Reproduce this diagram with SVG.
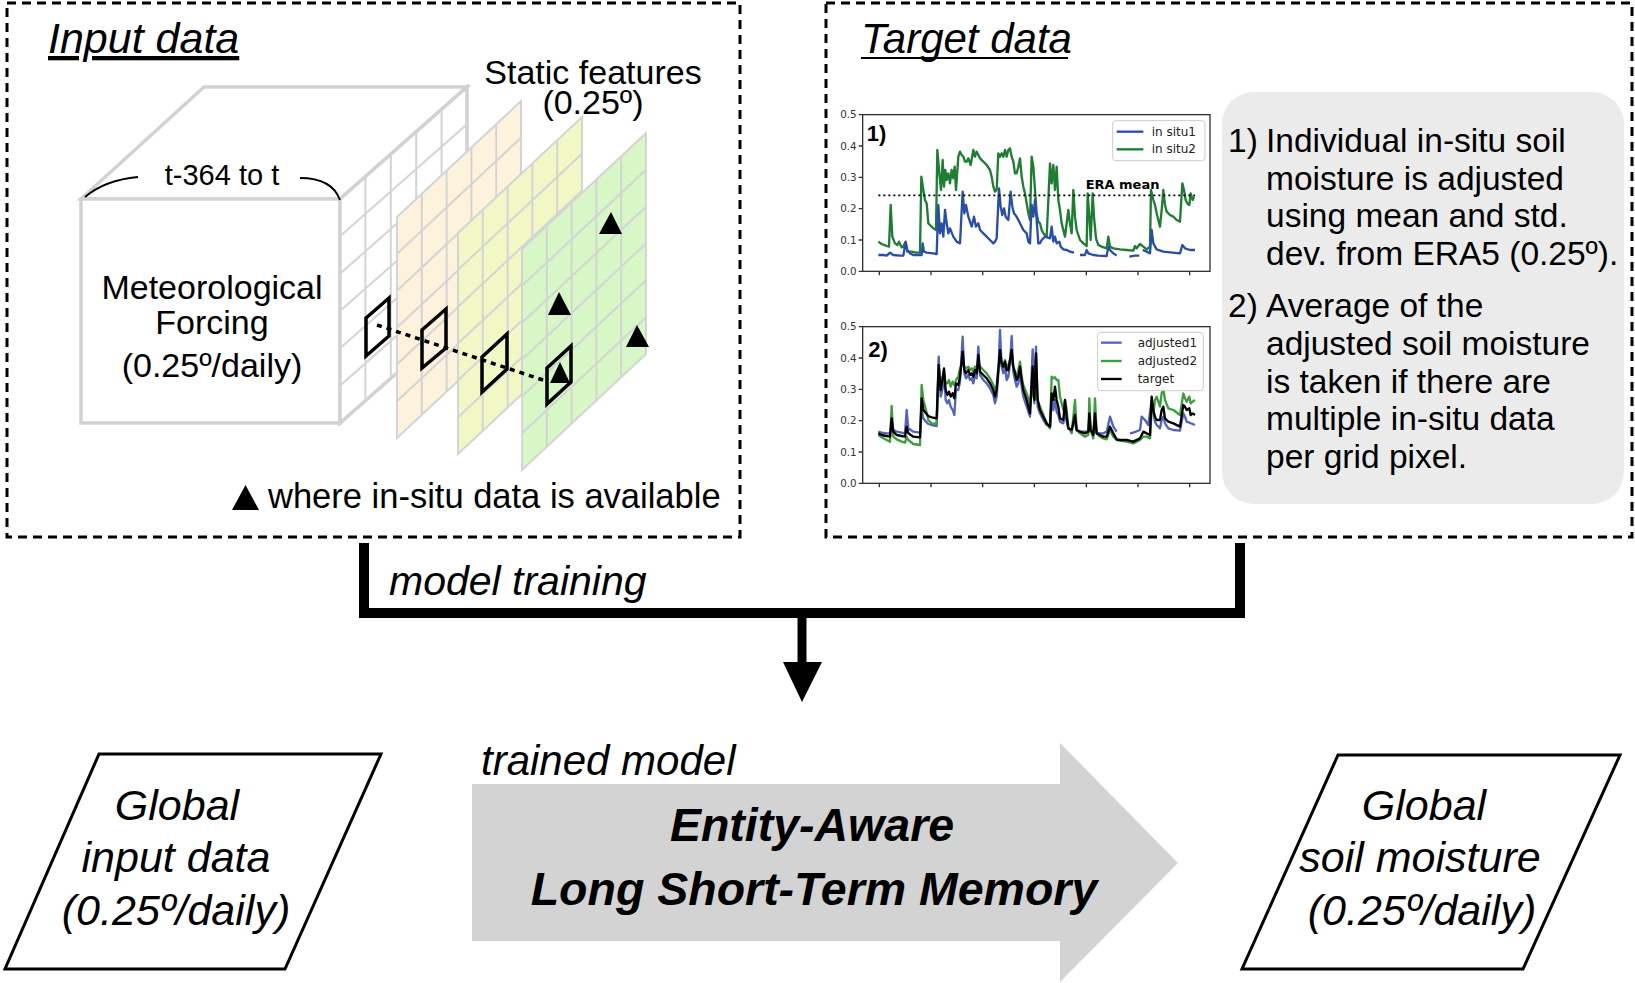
<svg xmlns="http://www.w3.org/2000/svg" width="1635" height="983" viewBox="0 0 1635 983">
<style>
.sans{font-family:"Liberation Sans",Arial,Helvetica,sans-serif;fill:#000}
.it{font-style:italic}
.bd{font-weight:bold}
.dash{fill:none;stroke:#000;stroke-width:3;stroke-dasharray:9 6}
.grey{fill:none;stroke:#d4d4d4;stroke-width:2}
.cube{stroke:#d2d2d2;stroke-width:3.5;fill:#fff}
.cell{fill:none;stroke:#000;stroke-width:3.5;stroke-linejoin:miter}
.spine{fill:none;stroke:#333;stroke-width:4}
.tick{stroke:#333;stroke-width:4}
.tl{font-family:"DejaVu Sans","Liberation Sans",sans-serif;font-size:31px;fill:#333;text-anchor:end}
.lg{font-family:"DejaVu Sans","Liberation Sans",sans-serif;font-size:36px;fill:#222}
.ser{fill:none;stroke-width:7;stroke-linejoin:round}
</style>
<defs>
<g id="grid">
<path class="grey" d="M0,0 L124,-116 L124,105 L0,221 Z M24.8,-23.2 V197.8 M49.6,-46.4 V174.6 M74.4,-69.6 V151.4 M99.2,-92.8 V128.2 M0,36.8 L124,-79.2 M0,73.7 L124,-42.3 M0,110.5 L124,-5.5 M0,147.3 L124,31.3 M0,184.2 L124,68.2"/>
</g>
<g id="axes">
<rect class="spine" x="128" y="0" width="1042" height="470"/>
<path class="tick" d="M116,0 H128 M116,94 H128 M116,188 H128 M116,282 H128 M116,376 H128 M116,470 H128 M178,470 V482 M333,470 V482 M488,470 V482 M643,470 V482 M799,470 V482 M954,470 V482 M1109,470 V482"/>
<text class="tl" x="110" y="11">0.5</text>
<text class="tl" x="110" y="105">0.4</text>
<text class="tl" x="110" y="199">0.3</text>
<text class="tl" x="110" y="293">0.2</text>
<text class="tl" x="110" y="387">0.1</text>
<text class="tl" x="110" y="481">0.0</text>
</g>
</defs>
<rect width="1635" height="983" fill="#fff"/>

<g id="input-data">
<rect class="dash" x="7" y="3" width="733" height="534"/>
<text class="sans it" x="48" y="53" font-size="43" text-decoration="underline">Input data</text>
<!-- cube -->
<polygon class="cube" points="81,199 204,87 467,87 340,199"/>
<rect class="cube" x="81" y="199" width="259" height="224"/>
<polygon class="cube" points="340,199 467,87 467,311 340,423"/>
<path class="grey" d="M365.4,176.6 V400.6 M390.8,154.2 V378.2 M416.2,131.8 V355.8 M441.6,109.4 V333.4 M340,236.3 L467,124.3 M340,273.7 L467,161.7 M340,311 L467,199 M340,348.3 L467,236.3 M340,385.7 L467,273.7"/>
<text class="sans" x="222" y="185" font-size="29" text-anchor="middle">t-364 to t</text>
<path d="M85,197 Q105,180 138,177 M300,178 Q332,178 340,200" fill="none" stroke="#000" stroke-width="1.8"/>
<text class="sans" font-size="34" text-anchor="middle"><tspan x="212" y="299">Meteorological</tspan><tspan x="212" y="334">Forcing</tspan><tspan x="212" y="377">(0.25º/daily)</tspan></text>
<!-- static feature panels -->
<polygon points="397,217 521,101 521,322 397,438" fill="#fdf3dc"/>
<use href="#grid" x="397" y="217"/>
<polygon points="458,233 582,117 582,338 458,454" fill="#f2f7c6"/>
<use href="#grid" x="458" y="233"/>
<polygon points="522,249 646,133 646,354 522,470" fill="#d7f7c6"/>
<use href="#grid" x="522" y="249"/>
<text class="sans" font-size="34" text-anchor="middle"><tspan x="593" y="84">Static features</tspan><tspan x="593" y="114">(0.25º)</tspan></text>
<!-- in-situ markers -->
<polygon points="611,212 599,234 622,234" fill="#000"/>
<polygon points="559,292 548,315 571,315" fill="#000"/>
<polygon points="637,325 626,347 649,347" fill="#000"/>
<polygon points="560,362 550,383 570,383" fill="#000"/>
<!-- selected cells -->
<line x1="377" y1="325" x2="546" y2="381" stroke="#000" stroke-width="3.5" stroke-dasharray="5 5"/>
<polygon class="cell" points="366,318 389,298 389,336 366,356"/>
<polygon class="cell" points="422,330 446,309 446,348 422,368"/>
<polygon class="cell" points="482,357 507,334 507,369 482,392"/>
<polygon class="cell" points="547,368 571,346 571,382 547,404"/>
<polygon points="245.5,485 232,510 259,510" fill="#000"/>
<text class="sans" x="268" y="508" font-size="34.5">where in-situ data is available</text>
</g>

<g id="target-data">
<rect class="dash" x="826" y="3" width="806" height="534"/>
<text class="sans it" x="861" y="53" font-size="42">Target data</text>
<line x1="861" y1="58" x2="1068" y2="58" stroke="#000" stroke-width="2"/>
<!-- chart 1 -->
<g transform="translate(820,90) scale(0.33333)">
<use href="#axes" y="74"/>
<polyline class="ser" stroke="#1e7d33" points="175,455 185,462 200,468 207,470 212,345 217,440 225,460 232,465 237,455 240,462 245,472 250,470 255,458 262,485 275,485 290,488 300,488 304,260 310,300 315,330 320,340 325,400 330,405 340,415 348,420 352,180 358,250 363,300 368,210 372,290 376,240 380,270 385,250 390,280 395,240 400,265 404,230 408,300 415,200 420,185 425,195 430,200 435,215 440,215 445,205 452,225 460,180 465,200 470,185 475,195 480,205 490,215 500,225 510,240 515,260 520,290 525,305 530,300 535,190 540,200 545,190 550,200 555,180 560,200 565,180 570,175 575,200 580,215 585,250 590,250 595,230 600,205 605,260 610,290 615,310 620,340 625,370 630,390 635,200 640,230 645,300 650,370 655,395 660,400 665,420 670,430 680,440 690,220 695,280 700,225 705,300 710,230 715,330 720,360 725,400 730,420 735,440 745,360 750,400 755,430 760,300 765,380 770,420 780,450 790,460 800,468 803,310 808,380 812,450 818,310 822,380 828,445 835,465 845,470 860,475 865,440 870,470 880,475 900,478 920,480 940,482 945,468 950,475 960,462 970,470 980,478 990,470 993,300 1000,330 1005,345 1010,370 1015,390 1020,410 1025,360 1030,300 1035,345 1040,365 1050,375 1060,380 1070,390 1080,395 1087,280 1092,300 1097,330 1102,340 1108,345 1112,310 1118,330 1122,320"/>
<polyline class="ser" stroke="#2a4ea8" points="175,495 190,495 200,497 210,488 220,495 240,497 250,497 257,455 262,480 270,490 280,495 290,495 305,495 308,460 312,485 320,488 340,490 350,492 355,345 360,430 365,400 370,440 375,360 380,400 385,430 390,415 400,440 410,455 420,460 428,305 433,370 438,345 445,380 450,395 455,410 462,380 468,410 475,400 480,420 490,430 500,440 510,450 520,460 525,455 530,445 537,295 542,350 547,375 552,355 557,380 565,390 572,305 577,350 582,370 590,380 600,400 610,420 620,430 625,455 630,460 635,345 640,380 645,330 650,390 655,460 660,460 665,450 675,440 690,445 695,410 700,455 705,440 710,460 718,455 722,470 730,478 740,480 750,485 762,488"/>
<polyline class="ser" stroke="#2a4ea8" points="780,495 795,495 800,480 805,490 820,495 835,497 860,498 865,470 870,480 880,490 890,497"/>
<polyline class="ser" stroke="#2a4ea8" points="928,500 945,497 958,497"/>
<polyline class="ser" stroke="#2a4ea8" points="968,480 980,485 990,490 995,420 1000,460 1010,478 1030,485 1050,487 1080,490 1087,465 1095,475 1110,480 1125,480"/>
<line x1="175" y1="316" x2="1125" y2="316" stroke="#000" stroke-width="5" stroke-dasharray="6 9"/>
<text x="797" y="298" font-family="DejaVu Sans,Liberation Sans,sans-serif" font-weight="bold" font-size="39" fill="#000">ERA mean</text>
<rect x="878" y="92" width="277" height="120" rx="10" fill="#fff" fill-opacity="0.85" stroke="#ccc" stroke-width="3"/>
<line x1="890" y1="125" x2="970" y2="125" stroke="#2a4ea8" stroke-width="7"/>
<line x1="890" y1="178" x2="970" y2="178" stroke="#1e7d33" stroke-width="7"/>
<text class="lg" x="995" y="137">in situ1</text>
<text class="lg" x="995" y="190">in situ2</text>
<text class="sans bd" x="140" y="152" font-size="66">1)</text>
</g>
<!-- chart 2 -->
<g transform="translate(820,300) scale(0.33333)">
<use href="#axes" y="80"/>
<polyline class="ser" stroke="#5264bc" points="175,395 185,398 200,400 210,400 215,370 220,390 230,395 245,398 255,400 260,330 265,385 280,395 300,398 305,330 310,355 318,365 325,372 335,375 350,378 356,170 362,290 367,270 372,210 377,300 382,310 387,300 392,320 398,330 403,345 408,270 415,270 420,245 428,110 433,220 438,235 445,225 450,240 455,235 460,250 465,225 470,235 475,140 480,225 490,240 500,250 510,265 520,285 525,310 530,290 535,220 540,90 545,200 550,220 555,200 560,240 565,230 570,190 575,108 580,215 585,240 590,260 595,250 600,215 605,260 610,290 620,320 630,350 638,148 643,310 648,140 653,320 660,340 670,360 680,375 690,380 695,300 700,330 705,300 710,335 715,345 720,365 730,370 735,330 740,365 745,385 755,392 765,360 770,392 780,395 795,395 805,395 808,360 812,392 820,398 825,360 830,398 840,400 850,400 860,395 870,350 880,380 890,395"/>
<polyline class="ser" stroke="#5264bc" points="930,400 940,398 960,390 965,350 975,360 985,375 995,300 1000,340 1005,365 1010,375 1020,385 1025,360 1030,350 1035,370 1045,385 1060,390 1080,392 1090,340 1095,350 1100,365 1108,368 1118,372 1125,375"/>
<polyline class="ser" stroke="#3e9b3e" points="175,405 185,412 200,420 210,425 215,318 220,410 230,418 245,425 255,428 260,410 265,420 280,432 300,435 305,255 310,300 318,330 325,360 335,370 350,372 356,210 362,260 367,235 372,220 377,250 382,250 387,240 392,260 398,245 403,255 408,240 415,230 420,205 428,190 433,200 438,205 445,200 450,210 455,205 460,215 465,200 470,210 475,190 480,200 490,210 500,220 510,235 520,255 525,270 530,255 535,205 540,190 545,195 550,195 555,180 560,200 565,195 570,180 575,185 580,200 585,215 590,230 595,210 600,185 605,230 610,255 620,280 630,310 638,270 643,300 648,270 653,300 660,320 670,345 680,370 690,385 695,230 700,235 705,232 710,240 715,240 720,290 730,330 735,300 740,330 745,380 755,400 765,300 770,390 780,400 795,410 805,405 808,295 812,390 820,415 825,295 830,400 840,410 850,415 860,418 870,390 880,410 890,420 900,422 920,425 940,430 960,420 970,410 980,410 990,415 995,330 1000,340 1005,300 1010,290 1020,320 1025,280 1030,265 1035,300 1045,325 1060,330 1080,345 1090,280 1095,295 1100,305 1108,290 1112,310 1118,305 1125,300"/>
<polyline class="ser" stroke="#000" points="175,400 185,405 200,408 210,410 215,355 220,395 230,405 245,408 255,410 260,380 265,400 280,410 300,412 305,295 310,330 318,340 325,348 335,352 350,355 356,195 362,270 367,240 372,205 377,270 382,285 387,275 392,290 398,280 403,295 408,250 415,255 420,230 428,155 433,210 438,220 445,210 450,225 455,220 460,230 465,210 470,220 475,165 480,215 490,225 500,235 510,250 520,270 525,290 530,270 535,210 540,150 545,190 550,200 555,185 560,210 565,210 570,180 575,150 580,200 585,220 590,240 595,230 600,200 605,240 610,270 620,300 630,340 638,200 643,300 648,160 653,300 660,330 670,350 680,370 690,380 695,280 700,300 705,260 710,300 715,320 720,355 730,360 735,300 740,350 745,385 755,390 765,345 770,390 780,395 795,400 805,395 808,340 812,390 820,405 825,340 830,400 840,405 850,410 860,410 870,380 880,400 890,418 900,420 920,420 940,425 960,415 970,395 980,400 990,405 995,290 1000,330 1005,350 1010,360 1020,360 1025,330 1030,320 1035,355 1045,365 1060,370 1080,380 1090,315 1095,320 1100,330 1108,325 1112,345 1118,340 1125,345"/>
<rect x="833" y="97" width="317" height="175" rx="10" fill="#fff" fill-opacity="0.85" stroke="#ccc" stroke-width="3"/>
<line x1="843" y1="128" x2="905" y2="128" stroke="#5264bc" stroke-width="7"/>
<line x1="843" y1="183" x2="905" y2="183" stroke="#3e9b3e" stroke-width="7"/>
<line x1="843" y1="237" x2="905" y2="237" stroke="#000" stroke-width="7"/>
<text class="lg" x="953" y="140">adjusted1</text>
<text class="lg" x="953" y="195">adjusted2</text>
<text class="lg" x="953" y="249">target</text>
<text class="sans bd" x="145" y="172" font-size="66">2)</text>
</g>
<!-- explanation box -->
<rect x="1222" y="92" width="402" height="412" rx="32" fill="#ebebeb"/>
<text class="sans" font-size="33.5">
<tspan x="1228" y="152">1)</tspan><tspan x="1266" y="152">Individual in-situ soil</tspan>
<tspan x="1266" y="190">moisture is adjusted</tspan>
<tspan x="1266" y="227">using mean and std.</tspan>
<tspan x="1266" y="265">dev. from ERA5 (0.25º).</tspan>
<tspan x="1228" y="317">2)</tspan><tspan x="1266" y="317">Average of the</tspan>
<tspan x="1266" y="355">adjusted soil moisture</tspan>
<tspan x="1266" y="393">is taken if there are</tspan>
<tspan x="1266" y="430">multiple in-situ data</tspan>
<tspan x="1266" y="468">per grid pixel.</tspan>
</text>
</g>

<g id="connectors">
<path d="M364,543 V613 H1240 V543" fill="none" stroke="#000" stroke-width="10"/>
<line x1="802" y1="613" x2="802" y2="666" stroke="#000" stroke-width="9"/>
<polygon points="783,662 822,662 802,702" fill="#000"/>
<text class="sans it" x="389" y="595" font-size="41">model training</text>
</g>

<g id="global-input">
<polygon points="99,754 381,754 285,969 5,969" fill="#fff" stroke="#000" stroke-width="3"/>
<text class="sans it" font-size="43" text-anchor="middle"><tspan x="177" y="820">Global</tspan><tspan x="176" y="872">input data</tspan><tspan x="176" y="925">(0.25º/daily)</tspan></text>
</g>

<g id="model">
<polygon points="472,784 1060,784 1060,743 1178,863 1060,982 1060,941 472,941" fill="#d3d3d3"/>
<text class="sans it" x="481" y="775" font-size="42">trained model</text>
<text class="sans it bd" font-size="46.5" text-anchor="middle"><tspan x="812" y="841">Entity-Aware</tspan><tspan x="814" y="905">Long Short-Term Memory</tspan></text>
</g>

<g id="global-soil-moisture">
<polygon points="1338,755 1620,755 1523,969 1242,969" fill="#fff" stroke="#000" stroke-width="3"/>
<text class="sans it" font-size="43" text-anchor="middle"><tspan x="1424" y="820">Global</tspan><tspan x="1420" y="872">soil moisture</tspan><tspan x="1422" y="925">(0.25º/daily)</tspan></text>
</g>
</svg>
